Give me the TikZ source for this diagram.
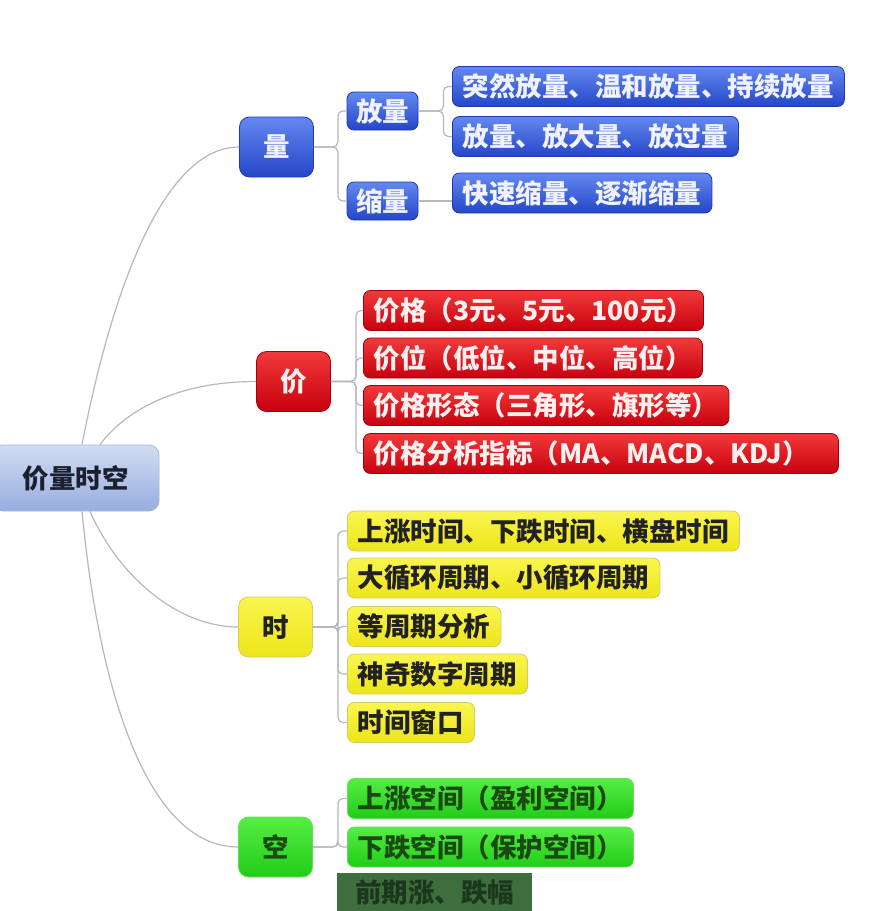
\documentclass[tikz,border=0pt]{standalone}
\usepackage{fontspec}
\setmainfont{Noto Sans CJK SC}
\definecolor{blueT}{HTML}{6488F0}
\definecolor{blueB}{HTML}{2446C8}
\definecolor{blueD}{HTML}{1E3CA8}
\definecolor{blueTx}{HTML}{F0F2FF}
\definecolor{redT}{HTML}{F03A3A}
\definecolor{redB}{HTML}{C8000E}
\definecolor{redD}{HTML}{A00010}
\definecolor{redTx}{HTML}{FFF0F0}
\definecolor{yelT}{HTML}{FAF550}
\definecolor{yelB}{HTML}{EDE51A}
\definecolor{yelD}{HTML}{D4CC60}
\definecolor{yelTx}{HTML}{222222}
\definecolor{grnT}{HTML}{55EE44}
\definecolor{grnB}{HTML}{22CC18}
\definecolor{grnD}{HTML}{66DD55}
\definecolor{grnTx}{HTML}{1A4A12}
\definecolor{rootT}{HTML}{D2DCF2}
\definecolor{rootB}{HTML}{98AEE0}
\definecolor{rootD}{HTML}{A8B8DA}
\definecolor{rootTx}{HTML}{1A2030}
\definecolor{connC}{HTML}{B4B8C0}
\definecolor{dkG}{HTML}{3E6E3E}
\definecolor{dkGTx}{HTML}{1C381C}
\begin{document}
\begin{tikzpicture}[x=1pt,y=-1pt,
  base/.style={rounded corners=7pt, font=\bfseries\fontsize{26.5}{30}\selectfont,
    inner xsep=10.5pt, inner ysep=0pt, minimum height=40pt, anchor=west, line width=0.8pt},
  lvlone/.style={base, anchor=center, rounded corners=10pt, minimum width=74pt, minimum height=60pt, inner xsep=0pt},
  lvltwo/.style={base, anchor=center, rounded corners=7pt, minimum width=71pt, minimum height=38pt, inner xsep=0pt},
  bluebox/.style={top color=blueT, bottom color=blueB, draw=blueD, text=blueTx},
  redbox/.style={top color=redT, bottom color=redB, draw=redD, text=redTx},
  yelbox/.style={top color=yelT, bottom color=yelB, draw=yelD, text=yelTx},
  grnbox/.style={top color=grnT, bottom color=grnB, draw=grnD, text=grnTx},
  rootbox/.style={base, anchor=center, rounded corners=10pt, minimum width=166pt, minimum height=66pt,
    top color=rootT, bottom color=rootB, draw=rootD, text=rootTx},
  conn/.style={draw=connC, line width=1.2pt},
  bracket/.style={conn, rounded corners=5pt}
]
\useasboundingbox[fill=white] (0,0) rectangle (873,911);

% root
\node[rootbox] (root) at (76,478) {价量时空};

% level one
\node[lvlone, bluebox] (liang) at (276.5,147) {量};
\node[lvlone, redbox] (jia) at (293.5,381.5) {价};
\node[lvlone, yelbox] (shi) at (275.5,627) {时};
\node[lvlone, grnbox] (kong) at (275.5,847) {空};

% level two (blue)
\node[lvltwo, bluebox] (fang) at (382.5,111) {放量};
\node[lvltwo, bluebox] (suo) at (382.5,201) {缩量};

% blue leaves
\node[base, bluebox] (b1) at (452,86.5) {突然放量、温和放量、持续放量};
\node[base, bluebox] (b2) at (452,136.5) {放量、放大量、放过量};
\node[base, bluebox] (b3) at (452,193) {快速缩量、逐渐缩量};

% red leaves
\node[base, redbox] (r1) at (363,310.5) {价格（3元、5元、100元）};
\node[base, redbox] (r2) at (363,358) {价位（低位、中位、高位）};
\node[base, redbox] (r3) at (363,405.5) {价格形态（三角形、旗形等）};
\node[base, redbox, text width=454pt, align=left] (r4) at (363,453.5) {价格分析指标（MA、MACD、KDJ）};

% yellow leaves
\node[base, yelbox] (y1) at (347,531) {上涨时间、下跌时间、横盘时间};
\node[base, yelbox] (y2) at (347,578) {大循环周期、小循环周期};
\node[base, yelbox] (y3) at (347,626.5) {等周期分析};
\node[base, yelbox] (y4) at (347,674) {神奇数字周期};
\node[base, yelbox] (y5) at (347,722.5) {时间窗口};

% green leaves
\node[base, grnbox] (g1) at (347,798.5) {上涨空间（盈利空间）};
\node[base, grnbox] (g2) at (347,847) {下跌空间（保护空间）};

% clipped dark box at the bottom
\begin{scope}
\clip (0,0) rectangle (873,911);
\node[base, rounded corners=0pt, fill=dkG, draw=none, text=dkGTx, minimum width=195pt] (g3) at (337,892.5) {前期涨、跌幅};
\end{scope}

% main curves
\draw[conn] ([xshift=6pt]root.north) .. controls +(28,-145) and +(-78,0) .. (liang.west);
\draw[conn] ([xshift=24pt]root.north) .. controls +(30,-40) and +(-70,0) .. (jia.west);
\draw[conn] ([xshift=14pt]root.south) .. controls +(30,68) and +(-58,0) .. (shi.west);
\draw[conn] ([xshift=6pt]root.south) .. controls +(18,188) and +(-88,0) .. (kong.west);

% brackets
\foreach \c in {fang,suo} \draw[bracket] (liang.east) -- ++(24,0) |- (\c.west);
\foreach \c in {b1,b2} \draw[bracket] (fang.east) -- ++(25,0) |- (\c.west);
\draw[conn] (suo.east) -- (suo.east -| b3.west);
\foreach \c in {r1,r2,r3,r4} \draw[bracket] (jia.east) -- ++(25,0) |- (\c.west);
\foreach \c in {y1,y2,y3,y4,y5} \draw[bracket] (shi.east) -- ++(25,0) |- (\c.west);
\foreach \c in {g1,g2} \draw[bracket] (kong.east) -- ++(25,0) |- (\c.west);
\end{tikzpicture}
\end{document}
